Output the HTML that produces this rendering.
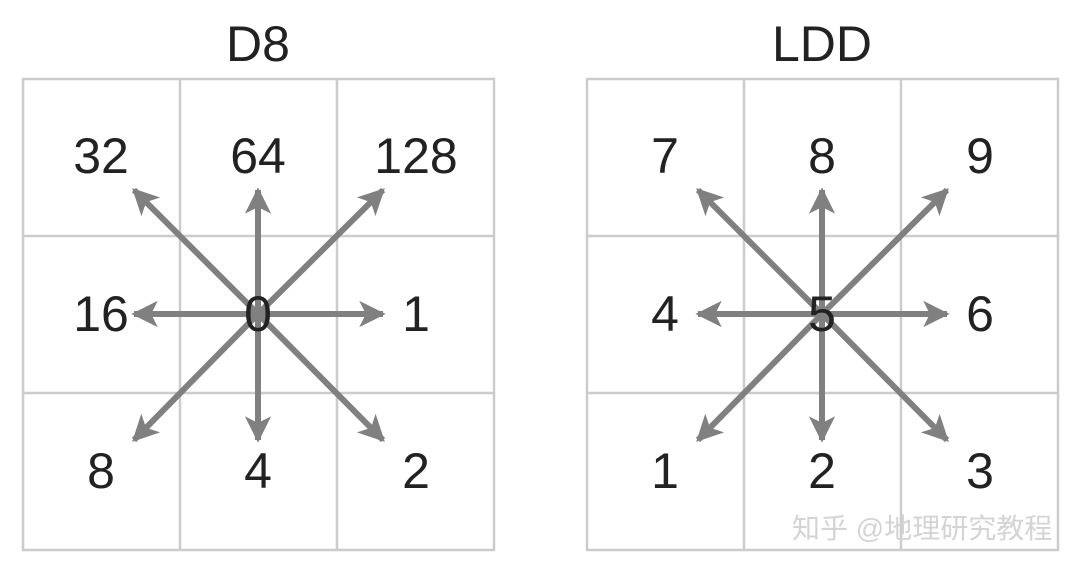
<!DOCTYPE html>
<html><head><meta charset="utf-8"><style>
html,body{margin:0;padding:0;background:#fff;width:1080px;height:573px;overflow:hidden}
</style></head><body>
<svg width="1080" height="573" viewBox="0 0 1080 573" xmlns="http://www.w3.org/2000/svg">
<defs>
<marker id="a" viewBox="0 0 10 10" refX="9" refY="5" markerWidth="6.5" markerHeight="4.4" orient="auto" markerUnits="strokeWidth">
<path d="M0,0 L10,5 L0,10 L2.5,5 Z" fill="#808080"/>
</marker>
</defs>
<g font-family="Liberation Sans, sans-serif" font-size="50" fill="#222" text-anchor="middle">
<text x="258" y="61">D8</text>
<text x="822" y="61">LDD</text>
</g>
<g stroke="#cccccc" stroke-width="2.5" fill="none">
<rect x="23" y="79" width="471" height="471"/>
<line x1="180" y1="79" x2="180" y2="550"/><line x1="337" y1="79" x2="337" y2="550"/>
<line x1="23" y1="236" x2="494" y2="236"/><line x1="23" y1="393" x2="494" y2="393"/>
<rect x="587" y="79" width="471" height="471"/>
<line x1="744" y1="79" x2="744" y2="550"/><line x1="901" y1="79" x2="901" y2="550"/>
<line x1="587" y1="236" x2="1058" y2="236"/><line x1="587" y1="393" x2="1058" y2="393"/>
</g>
<g stroke="#808080" stroke-width="6" marker-end="url(#a)">
<line x1="258" y1="314" x2="383" y2="314"/><line x1="258" y1="314" x2="134" y2="314"/>
<line x1="258" y1="314" x2="258" y2="190"/><line x1="258" y1="314" x2="258" y2="440"/>
<line x1="258" y1="314" x2="383" y2="190"/><line x1="258" y1="314" x2="134" y2="190"/>
<line x1="258" y1="314" x2="134" y2="440"/><line x1="258" y1="314" x2="383" y2="440"/>
<line x1="822" y1="314" x2="947" y2="314"/><line x1="822" y1="314" x2="698" y2="314"/>
<line x1="822" y1="314" x2="822" y2="190"/><line x1="822" y1="314" x2="822" y2="440"/>
<line x1="822" y1="314" x2="947" y2="190"/><line x1="822" y1="314" x2="698" y2="190"/>
<line x1="822" y1="314" x2="698" y2="440"/><line x1="822" y1="314" x2="947" y2="440"/>
</g>
<g font-family="Liberation Sans, sans-serif" font-size="50" fill="#222" text-anchor="middle">
<text x="101" y="173">32</text><text x="258" y="173">64</text><text x="416" y="173">128</text>
<text x="101" y="331">16</text><text x="258" y="331">0</text><text x="416" y="331">1</text>
<text x="101" y="488">8</text><text x="258" y="488">4</text><text x="416" y="488">2</text>
<text x="665" y="173">7</text><text x="822" y="173">8</text><text x="980" y="173">9</text>
<text x="665" y="331">4</text><text x="822" y="331">5</text><text x="980" y="331">6</text>
<text x="665" y="488">1</text><text x="822" y="488">2</text><text x="980" y="488">3</text>
</g>
<text x="792" y="538" font-family="Liberation Sans, Noto Sans CJK SC, sans-serif" font-size="28" fill="#d4d4d4">知乎 @地理研究教程</text>
</svg>
</body></html>
